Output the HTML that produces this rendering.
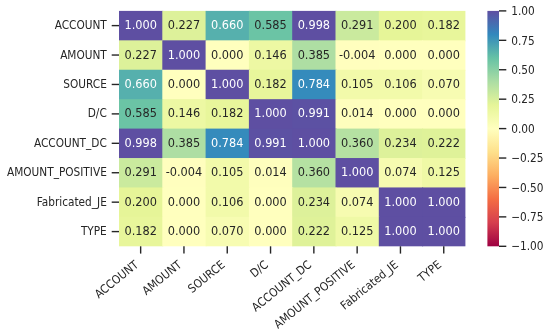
<!DOCTYPE html>
<html><head><meta charset="utf-8"><style>
html,body{margin:0;padding:0;background:#fff;width:550px;height:336px;overflow:hidden}
svg text{font-family:"DejaVu Sans Condensed","DejaVu Sans","Liberation Sans",sans-serif;font-stretch:condensed}
</style></head><body>
<svg width="550" height="336" viewBox="0 0 550 336" style="position:absolute;left:0;top:0">
<rect x="119.00" y="10.90" width="44.30" height="30.43" fill="#5e4fa2"/>
<rect x="162.30" y="10.90" width="44.30" height="30.43" fill="#ddf19a"/>
<rect x="205.60" y="10.90" width="44.30" height="30.43" fill="#56b0ad"/>
<rect x="248.90" y="10.90" width="44.30" height="30.43" fill="#6bc4a5"/>
<rect x="292.20" y="10.90" width="44.30" height="30.43" fill="#5e4fa2"/>
<rect x="335.50" y="10.90" width="44.30" height="30.43" fill="#caea9e"/>
<rect x="378.80" y="10.90" width="44.30" height="30.43" fill="#e6f598"/>
<rect x="422.10" y="10.90" width="43.30" height="30.43" fill="#e8f69b"/>
<rect x="119.00" y="40.33" width="44.30" height="30.43" fill="#ddf19a"/>
<rect x="162.30" y="40.33" width="44.30" height="30.43" fill="#5e4fa2"/>
<rect x="205.60" y="40.33" width="44.30" height="30.43" fill="#ffffbe"/>
<rect x="248.90" y="40.33" width="44.30" height="30.43" fill="#edf8a3"/>
<rect x="292.20" y="40.33" width="44.30" height="30.43" fill="#aedea3"/>
<rect x="335.50" y="40.33" width="44.30" height="30.43" fill="#fffebe"/>
<rect x="378.80" y="40.33" width="44.30" height="30.43" fill="#ffffbe"/>
<rect x="422.10" y="40.33" width="43.30" height="30.43" fill="#ffffbe"/>
<rect x="119.00" y="69.75" width="44.30" height="30.43" fill="#56b0ad"/>
<rect x="162.30" y="69.75" width="44.30" height="30.43" fill="#ffffbe"/>
<rect x="205.60" y="69.75" width="44.30" height="30.43" fill="#5e4fa2"/>
<rect x="248.90" y="69.75" width="44.30" height="30.43" fill="#e8f69b"/>
<rect x="292.20" y="69.75" width="44.30" height="30.43" fill="#358bbc"/>
<rect x="335.50" y="69.75" width="44.30" height="30.43" fill="#f2faaa"/>
<rect x="378.80" y="69.75" width="44.30" height="30.43" fill="#f2faaa"/>
<rect x="422.10" y="69.75" width="43.30" height="30.43" fill="#f7fcb2"/>
<rect x="119.00" y="99.18" width="44.30" height="30.43" fill="#6bc4a5"/>
<rect x="162.30" y="99.18" width="44.30" height="30.43" fill="#edf8a3"/>
<rect x="205.60" y="99.18" width="44.30" height="30.43" fill="#e8f69b"/>
<rect x="248.90" y="99.18" width="44.30" height="30.43" fill="#5e4fa2"/>
<rect x="292.20" y="99.18" width="44.30" height="30.43" fill="#5c51a3"/>
<rect x="335.50" y="99.18" width="44.30" height="30.43" fill="#fefebd"/>
<rect x="378.80" y="99.18" width="44.30" height="30.43" fill="#ffffbe"/>
<rect x="422.10" y="99.18" width="43.30" height="30.43" fill="#ffffbe"/>
<rect x="119.00" y="128.60" width="44.30" height="30.43" fill="#5e4fa2"/>
<rect x="162.30" y="128.60" width="44.30" height="30.43" fill="#aedea3"/>
<rect x="205.60" y="128.60" width="44.30" height="30.43" fill="#358bbc"/>
<rect x="248.90" y="128.60" width="44.30" height="30.43" fill="#5c51a3"/>
<rect x="292.20" y="128.60" width="44.30" height="30.43" fill="#5e4fa2"/>
<rect x="335.50" y="128.60" width="44.30" height="30.43" fill="#b5e1a2"/>
<rect x="378.80" y="128.60" width="44.30" height="30.43" fill="#ddf19a"/>
<rect x="422.10" y="128.60" width="43.30" height="30.43" fill="#dff299"/>
<rect x="119.00" y="158.03" width="44.30" height="30.43" fill="#caea9e"/>
<rect x="162.30" y="158.03" width="44.30" height="30.43" fill="#fffebe"/>
<rect x="205.60" y="158.03" width="44.30" height="30.43" fill="#f2faaa"/>
<rect x="248.90" y="158.03" width="44.30" height="30.43" fill="#fefebd"/>
<rect x="292.20" y="158.03" width="44.30" height="30.43" fill="#b5e1a2"/>
<rect x="335.50" y="158.03" width="44.30" height="30.43" fill="#5e4fa2"/>
<rect x="378.80" y="158.03" width="44.30" height="30.43" fill="#f6fbb0"/>
<rect x="422.10" y="158.03" width="43.30" height="30.43" fill="#eff9a6"/>
<rect x="119.00" y="187.45" width="44.30" height="30.43" fill="#e6f598"/>
<rect x="162.30" y="187.45" width="44.30" height="30.43" fill="#ffffbe"/>
<rect x="205.60" y="187.45" width="44.30" height="30.43" fill="#f2faaa"/>
<rect x="248.90" y="187.45" width="44.30" height="30.43" fill="#ffffbe"/>
<rect x="292.20" y="187.45" width="44.30" height="30.43" fill="#ddf19a"/>
<rect x="335.50" y="187.45" width="44.30" height="30.43" fill="#f6fbb0"/>
<rect x="378.80" y="187.45" width="44.30" height="30.43" fill="#5e4fa2"/>
<rect x="422.10" y="187.45" width="43.30" height="30.43" fill="#5e4fa2"/>
<rect x="119.00" y="216.88" width="44.30" height="29.43" fill="#e8f69b"/>
<rect x="162.30" y="216.88" width="44.30" height="29.43" fill="#ffffbe"/>
<rect x="205.60" y="216.88" width="44.30" height="29.43" fill="#f7fcb2"/>
<rect x="248.90" y="216.88" width="44.30" height="29.43" fill="#ffffbe"/>
<rect x="292.20" y="216.88" width="44.30" height="29.43" fill="#dff299"/>
<rect x="335.50" y="216.88" width="44.30" height="29.43" fill="#eff9a6"/>
<rect x="378.80" y="216.88" width="44.30" height="29.43" fill="#5e4fa2"/>
<rect x="422.10" y="216.88" width="43.30" height="29.43" fill="#5e4fa2"/>
<text x="140.65" y="29.21" fill="#ffffff" font-size="12.6" text-anchor="middle">1.000</text>
<text x="183.95" y="29.21" fill="#262626" font-size="12.6" text-anchor="middle">0.227</text>
<text x="227.25" y="29.21" fill="#ffffff" font-size="12.6" text-anchor="middle">0.660</text>
<text x="270.55" y="29.21" fill="#262626" font-size="12.6" text-anchor="middle">0.585</text>
<text x="313.85" y="29.21" fill="#ffffff" font-size="12.6" text-anchor="middle">0.998</text>
<text x="357.15" y="29.21" fill="#262626" font-size="12.6" text-anchor="middle">0.291</text>
<text x="400.45" y="29.21" fill="#262626" font-size="12.6" text-anchor="middle">0.200</text>
<text x="443.75" y="29.21" fill="#262626" font-size="12.6" text-anchor="middle">0.182</text>
<text x="140.65" y="58.63" fill="#262626" font-size="12.6" text-anchor="middle">0.227</text>
<text x="183.95" y="58.63" fill="#ffffff" font-size="12.6" text-anchor="middle">1.000</text>
<text x="227.25" y="58.63" fill="#262626" font-size="12.6" text-anchor="middle">0.000</text>
<text x="270.55" y="58.63" fill="#262626" font-size="12.6" text-anchor="middle">0.146</text>
<text x="313.85" y="58.63" fill="#262626" font-size="12.6" text-anchor="middle">0.385</text>
<text x="357.15" y="58.63" fill="#262626" font-size="12.6" text-anchor="middle">-0.004</text>
<text x="400.45" y="58.63" fill="#262626" font-size="12.6" text-anchor="middle">0.000</text>
<text x="443.75" y="58.63" fill="#262626" font-size="12.6" text-anchor="middle">0.000</text>
<text x="140.65" y="88.06" fill="#ffffff" font-size="12.6" text-anchor="middle">0.660</text>
<text x="183.95" y="88.06" fill="#262626" font-size="12.6" text-anchor="middle">0.000</text>
<text x="227.25" y="88.06" fill="#ffffff" font-size="12.6" text-anchor="middle">1.000</text>
<text x="270.55" y="88.06" fill="#262626" font-size="12.6" text-anchor="middle">0.182</text>
<text x="313.85" y="88.06" fill="#ffffff" font-size="12.6" text-anchor="middle">0.784</text>
<text x="357.15" y="88.06" fill="#262626" font-size="12.6" text-anchor="middle">0.105</text>
<text x="400.45" y="88.06" fill="#262626" font-size="12.6" text-anchor="middle">0.106</text>
<text x="443.75" y="88.06" fill="#262626" font-size="12.6" text-anchor="middle">0.070</text>
<text x="140.65" y="117.48" fill="#262626" font-size="12.6" text-anchor="middle">0.585</text>
<text x="183.95" y="117.48" fill="#262626" font-size="12.6" text-anchor="middle">0.146</text>
<text x="227.25" y="117.48" fill="#262626" font-size="12.6" text-anchor="middle">0.182</text>
<text x="270.55" y="117.48" fill="#ffffff" font-size="12.6" text-anchor="middle">1.000</text>
<text x="313.85" y="117.48" fill="#ffffff" font-size="12.6" text-anchor="middle">0.991</text>
<text x="357.15" y="117.48" fill="#262626" font-size="12.6" text-anchor="middle">0.014</text>
<text x="400.45" y="117.48" fill="#262626" font-size="12.6" text-anchor="middle">0.000</text>
<text x="443.75" y="117.48" fill="#262626" font-size="12.6" text-anchor="middle">0.000</text>
<text x="140.65" y="146.91" fill="#ffffff" font-size="12.6" text-anchor="middle">0.998</text>
<text x="183.95" y="146.91" fill="#262626" font-size="12.6" text-anchor="middle">0.385</text>
<text x="227.25" y="146.91" fill="#ffffff" font-size="12.6" text-anchor="middle">0.784</text>
<text x="270.55" y="146.91" fill="#ffffff" font-size="12.6" text-anchor="middle">0.991</text>
<text x="313.85" y="146.91" fill="#ffffff" font-size="12.6" text-anchor="middle">1.000</text>
<text x="357.15" y="146.91" fill="#262626" font-size="12.6" text-anchor="middle">0.360</text>
<text x="400.45" y="146.91" fill="#262626" font-size="12.6" text-anchor="middle">0.234</text>
<text x="443.75" y="146.91" fill="#262626" font-size="12.6" text-anchor="middle">0.222</text>
<text x="140.65" y="176.33" fill="#262626" font-size="12.6" text-anchor="middle">0.291</text>
<text x="183.95" y="176.33" fill="#262626" font-size="12.6" text-anchor="middle">-0.004</text>
<text x="227.25" y="176.33" fill="#262626" font-size="12.6" text-anchor="middle">0.105</text>
<text x="270.55" y="176.33" fill="#262626" font-size="12.6" text-anchor="middle">0.014</text>
<text x="313.85" y="176.33" fill="#262626" font-size="12.6" text-anchor="middle">0.360</text>
<text x="357.15" y="176.33" fill="#ffffff" font-size="12.6" text-anchor="middle">1.000</text>
<text x="400.45" y="176.33" fill="#262626" font-size="12.6" text-anchor="middle">0.074</text>
<text x="443.75" y="176.33" fill="#262626" font-size="12.6" text-anchor="middle">0.125</text>
<text x="140.65" y="205.76" fill="#262626" font-size="12.6" text-anchor="middle">0.200</text>
<text x="183.95" y="205.76" fill="#262626" font-size="12.6" text-anchor="middle">0.000</text>
<text x="227.25" y="205.76" fill="#262626" font-size="12.6" text-anchor="middle">0.106</text>
<text x="270.55" y="205.76" fill="#262626" font-size="12.6" text-anchor="middle">0.000</text>
<text x="313.85" y="205.76" fill="#262626" font-size="12.6" text-anchor="middle">0.234</text>
<text x="357.15" y="205.76" fill="#262626" font-size="12.6" text-anchor="middle">0.074</text>
<text x="400.45" y="205.76" fill="#ffffff" font-size="12.6" text-anchor="middle">1.000</text>
<text x="443.75" y="205.76" fill="#ffffff" font-size="12.6" text-anchor="middle">1.000</text>
<text x="140.65" y="235.18" fill="#262626" font-size="12.6" text-anchor="middle">0.182</text>
<text x="183.95" y="235.18" fill="#262626" font-size="12.6" text-anchor="middle">0.000</text>
<text x="227.25" y="235.18" fill="#262626" font-size="12.6" text-anchor="middle">0.070</text>
<text x="270.55" y="235.18" fill="#262626" font-size="12.6" text-anchor="middle">0.000</text>
<text x="313.85" y="235.18" fill="#262626" font-size="12.6" text-anchor="middle">0.222</text>
<text x="357.15" y="235.18" fill="#262626" font-size="12.6" text-anchor="middle">0.125</text>
<text x="400.45" y="235.18" fill="#ffffff" font-size="12.6" text-anchor="middle">1.000</text>
<text x="443.75" y="235.18" fill="#ffffff" font-size="12.6" text-anchor="middle">1.000</text>
<line x1="111.70" y1="25.61" x2="119.00" y2="25.61" stroke="#262626" stroke-width="1.4"/>
<text x="106.80" y="29.19" fill="#262626" font-size="11.73" text-anchor="end">ACCOUNT</text>
<line x1="111.70" y1="55.04" x2="119.00" y2="55.04" stroke="#262626" stroke-width="1.4"/>
<text x="106.80" y="58.61" fill="#262626" font-size="11.73" text-anchor="end">AMOUNT</text>
<line x1="111.70" y1="84.46" x2="119.00" y2="84.46" stroke="#262626" stroke-width="1.4"/>
<text x="106.80" y="88.04" fill="#262626" font-size="11.73" text-anchor="end">SOURCE</text>
<line x1="111.70" y1="113.89" x2="119.00" y2="113.89" stroke="#262626" stroke-width="1.4"/>
<text x="106.80" y="117.46" fill="#262626" font-size="11.73" text-anchor="end">D/C</text>
<line x1="111.70" y1="143.31" x2="119.00" y2="143.31" stroke="#262626" stroke-width="1.4"/>
<text x="106.80" y="146.89" fill="#262626" font-size="11.73" text-anchor="end">ACCOUNT_DC</text>
<line x1="111.70" y1="172.74" x2="119.00" y2="172.74" stroke="#262626" stroke-width="1.4"/>
<text x="106.80" y="176.31" fill="#262626" font-size="11.73" text-anchor="end">AMOUNT_POSITIVE</text>
<line x1="111.70" y1="202.16" x2="119.00" y2="202.16" stroke="#262626" stroke-width="1.4"/>
<text x="106.80" y="205.74" fill="#262626" font-size="11.73" text-anchor="end">Fabricated_JE</text>
<line x1="111.70" y1="231.59" x2="119.00" y2="231.59" stroke="#262626" stroke-width="1.4"/>
<text x="106.80" y="235.16" fill="#262626" font-size="11.73" text-anchor="end">TYPE</text>
<line x1="140.65" y1="246.30" x2="140.65" y2="253.60" stroke="#262626" stroke-width="1.4"/>
<text transform="translate(139.15,266.10) rotate(-39.0)" fill="#262626" font-size="11.73" text-anchor="end">ACCOUNT</text>
<line x1="183.95" y1="246.30" x2="183.95" y2="253.60" stroke="#262626" stroke-width="1.4"/>
<text transform="translate(182.45,266.10) rotate(-39.0)" fill="#262626" font-size="11.73" text-anchor="end">AMOUNT</text>
<line x1="227.25" y1="246.30" x2="227.25" y2="253.60" stroke="#262626" stroke-width="1.4"/>
<text transform="translate(225.75,266.10) rotate(-39.0)" fill="#262626" font-size="11.73" text-anchor="end">SOURCE</text>
<line x1="270.55" y1="246.30" x2="270.55" y2="253.60" stroke="#262626" stroke-width="1.4"/>
<text transform="translate(269.05,266.10) rotate(-39.0)" fill="#262626" font-size="11.73" text-anchor="end">D/C</text>
<line x1="313.85" y1="246.30" x2="313.85" y2="253.60" stroke="#262626" stroke-width="1.4"/>
<text transform="translate(312.35,266.10) rotate(-39.0)" fill="#262626" font-size="11.73" text-anchor="end">ACCOUNT_DC</text>
<line x1="357.15" y1="246.30" x2="357.15" y2="253.60" stroke="#262626" stroke-width="1.4"/>
<text transform="translate(355.65,266.10) rotate(-39.0)" fill="#262626" font-size="11.73" text-anchor="end">AMOUNT_POSITIVE</text>
<line x1="400.45" y1="246.30" x2="400.45" y2="253.60" stroke="#262626" stroke-width="1.4"/>
<text transform="translate(398.95,266.10) rotate(-39.0)" fill="#262626" font-size="11.73" text-anchor="end">Fabricated_JE</text>
<line x1="443.75" y1="246.30" x2="443.75" y2="253.60" stroke="#262626" stroke-width="1.4"/>
<text transform="translate(442.25,266.10) rotate(-39.0)" fill="#262626" font-size="11.73" text-anchor="end">TYPE</text>
<defs><linearGradient id="cb" x1="0" y1="1" x2="0" y2="0">
<stop offset="0.0000" stop-color="#9e0142"/>
<stop offset="0.1000" stop-color="#d53e4f"/>
<stop offset="0.2000" stop-color="#f46d43"/>
<stop offset="0.3000" stop-color="#fdae61"/>
<stop offset="0.4000" stop-color="#fee08b"/>
<stop offset="0.5000" stop-color="#ffffbf"/>
<stop offset="0.6000" stop-color="#e6f598"/>
<stop offset="0.7000" stop-color="#abdda4"/>
<stop offset="0.8000" stop-color="#66c2a5"/>
<stop offset="0.9000" stop-color="#3288bd"/>
<stop offset="1.0000" stop-color="#5e4fa2"/>
</linearGradient></defs>
<rect x="487.40" y="10.90" width="11.60" height="235.40" fill="url(#cb)"/>
<line x1="499.00" y1="10.90" x2="506.30" y2="10.90" stroke="#262626" stroke-width="1.4"/>
<text x="511.20" y="15.08" fill="#262626" font-size="11.73">1.00</text>
<line x1="499.00" y1="40.33" x2="506.30" y2="40.33" stroke="#262626" stroke-width="1.4"/>
<text x="511.20" y="44.50" fill="#262626" font-size="11.73">0.75</text>
<line x1="499.00" y1="69.75" x2="506.30" y2="69.75" stroke="#262626" stroke-width="1.4"/>
<text x="511.20" y="73.93" fill="#262626" font-size="11.73">0.50</text>
<line x1="499.00" y1="99.18" x2="506.30" y2="99.18" stroke="#262626" stroke-width="1.4"/>
<text x="511.20" y="103.35" fill="#262626" font-size="11.73">0.25</text>
<line x1="499.00" y1="128.60" x2="506.30" y2="128.60" stroke="#262626" stroke-width="1.4"/>
<text x="511.20" y="132.78" fill="#262626" font-size="11.73">0.00</text>
<line x1="499.00" y1="158.03" x2="506.30" y2="158.03" stroke="#262626" stroke-width="1.4"/>
<text x="511.20" y="162.20" fill="#262626" font-size="11.73">−0.25</text>
<line x1="499.00" y1="187.45" x2="506.30" y2="187.45" stroke="#262626" stroke-width="1.4"/>
<text x="511.20" y="191.63" fill="#262626" font-size="11.73">−0.50</text>
<line x1="499.00" y1="216.88" x2="506.30" y2="216.88" stroke="#262626" stroke-width="1.4"/>
<text x="511.20" y="221.05" fill="#262626" font-size="11.73">−0.75</text>
<line x1="499.00" y1="246.30" x2="506.30" y2="246.30" stroke="#262626" stroke-width="1.4"/>
<text x="511.20" y="250.48" fill="#262626" font-size="11.73">−1.00</text>
</svg>
</body></html>
